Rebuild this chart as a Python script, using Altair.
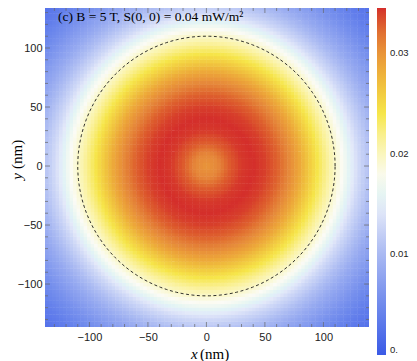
import altair as alt
import numpy as np
import pandas as pd

# radial profile of S (mW/m^2)
PROFILE_R = [0, 10, 20, 30, 40, 50, 60, 70, 80, 90, 100, 110, 120, 130, 140, 150, 165, 180, 200]
PROFILE_S = [0.0300, 0.0310, 0.0330, 0.0342, 0.0345, 0.0340, 0.0328, 0.0310, 0.0285, 0.0255,
             0.0225, 0.0195, 0.0163, 0.0130, 0.0105, 0.0083, 0.0058, 0.0038, 0.0018]

COLOR_STOPS = [0.0, 0.005, 0.01, 0.0145, 0.0175, 0.021, 0.024, 0.027, 0.031, 0.0345]
COLOR_RANGE = ["#3a5ae6", "#6f8aec", "#a9b9f2", "#e4e9f9", "#fbfbf6", "#fbf3a6",
               "#f6e64a", "#efbf3e", "#e5873a", "#d42e2b"]

X_TICKS = [-100, -50, 0, 50, 100]
Y_TICKS = [-100, -50, 0, 50, 100]
MINOR_TICKS = [-130, -120, -110, -90, -80, -70, -60, -40, -30, -20, -10,
               10, 20, 30, 40, 60, 70, 80, 90, 110, 120, 130]
LEGEND_VALUES = [0.0, 0.01, 0.02, 0.03]
CIRCLE_R = [110]
TITLE = "(c) B = 5 T, S(0, 0) = 0.04 mW/m²"

XDOM = [-138, 139]
YDOM = [-136.4, 133.9]
W, H = 324, 319
STEP = 3

# grid built from the radial profile
edges = np.arange(-141, 141, STEP)
gx, gy = np.meshgrid(edges, edges)
cx = gx + STEP / 2
cy = gy + STEP / 2
rr = np.sqrt(cx ** 2 + cy ** 2)
vals = np.interp(rr, PROFILE_R, PROFILE_S)
grid = pd.DataFrame({
    "x0": gx.ravel(), "x1": gx.ravel() + STEP + 0.4,
    "y0": gy.ravel(), "y1": gy.ravel() + STEP + 0.4,
    "v": vals.ravel(),
})

xscale = alt.Scale(domain=XDOM, nice=False, zero=False)
yscale = alt.Scale(domain=YDOM, nice=False, zero=False)
LABEL_FONT = "Liberation Sans"

heat = alt.Chart(grid).mark_rect(clip=True, strokeWidth=0).encode(
    x=alt.X("x0:Q", scale=xscale,
            axis=alt.Axis(values=X_TICKS, ticks=False, domain=False, grid=False,
                          labelFont=LABEL_FONT, labelFontSize=11, labelColor="#222",
                          labelPadding=4, title=None)),
    x2="x1:Q",
    y=alt.Y("y0:Q", scale=yscale,
            axis=alt.Axis(values=Y_TICKS, ticks=False, domain=False, grid=False,
                          labelFont=LABEL_FONT, labelFontSize=11, labelColor="#222",
                          labelPadding=3, title=None)),
    y2="y1:Q",
    color=alt.Color("v:Q",
                    scale=alt.Scale(domain=COLOR_STOPS, range=COLOR_RANGE),
                    legend=alt.Legend(orient="none", legendX=332, legendY=0,
                                      direction="vertical", gradientLength=347,
                                      gradientThickness=9, gradientStrokeWidth=0,
                                      values=LEGEND_VALUES, labelOverlap=False,
                                      labelExpr="datum.value == 0 ? '0.' : format(datum.value, '.2f')",
                                      labelFont=LABEL_FONT, labelFontSize=9.5,
                                      labelColor="#222", labelOffset=4, title=None)),
)

theta = np.linspace(0, 2 * np.pi, 241)
circ = pd.DataFrame({"cx": CIRCLE_R[0] * np.cos(theta),
                     "cy": CIRCLE_R[0] * np.sin(theta),
                     "i": np.arange(len(theta))})
circle = alt.Chart(circ).mark_line(strokeDash=[3, 2.5], color="#1a1a1a", strokeWidth=0.9).encode(
    x=alt.X("cx:Q", scale=xscale), y=alt.Y("cy:Q", scale=yscale), order="i:Q")

major = pd.DataFrame({"t": X_TICKS})
minor = pd.DataFrame({"t": MINOR_TICKS})
TC = "#666"


def ticks(df, length):
    b = alt.Chart(df).mark_rule(color=TC, strokeWidth=0.7).encode(
        x=alt.X("t:Q", scale=xscale), y=alt.value(H), y2=alt.value(H - length))
    t = alt.Chart(df).mark_rule(color=TC, strokeWidth=0.7).encode(
        x=alt.X("t:Q", scale=xscale), y=alt.value(0), y2=alt.value(length))
    l = alt.Chart(df).mark_rule(color=TC, strokeWidth=0.7).encode(
        y=alt.Y("t:Q", scale=yscale), x=alt.value(0), x2=alt.value(length))
    r = alt.Chart(df).mark_rule(color=TC, strokeWidth=0.7).encode(
        y=alt.Y("t:Q", scale=yscale), x=alt.value(W), x2=alt.value(W - length))
    return [b, t, l, r]


def label(txt, x, y, size, style="normal", angle=0, align="left"):
    return alt.Chart(pd.DataFrame({"s": [txt]})).mark_text(
        align=align, baseline="middle", font="Liberation Serif", fontSize=size,
        fontStyle=style, angle=angle, color="black").encode(
        x=alt.value(x), y=alt.value(y), text="s:N")


layers = [heat, circle] + ticks(major, 5) + ticks(minor, 3) + [
    label(TITLE, 13, 9, 13.5),
    label("x", 146, 346, 15, style="italic"),
    label("(nm)", 155, 346, 15),
    label("y", -28, 168.5, 15, style="italic", angle=270, align="center"),
    label("(nm)", -28, 161, 15, angle=270),
]

chart = alt.layer(*layers).properties(
    width=W, height=H,
    autosize=alt.AutoSizeParams(type="none"),
    padding={"left": 37, "top": 0, "right": 40, "bottom": 34},
).configure_view(strokeWidth=0)

chart.save("out.html", embed_options={"renderer": "svg", "actions": False})
